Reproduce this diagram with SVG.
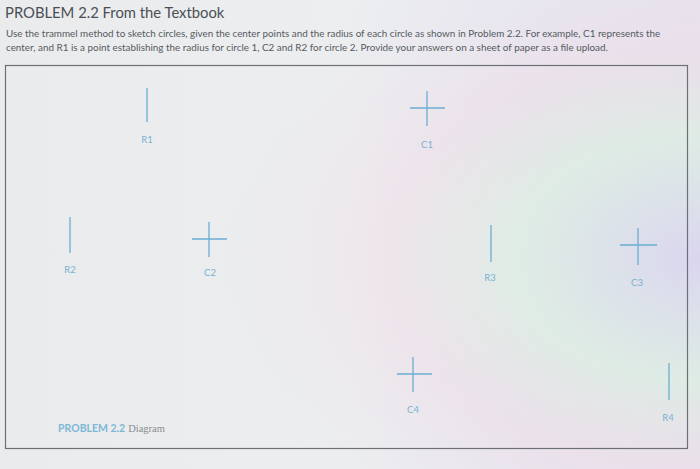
<svg xmlns="http://www.w3.org/2000/svg" width="700" height="469" viewBox="0 0 700 469">
  <defs>
    <linearGradient id="bg" x1="0" y1="0" x2="1" y2="0">
      <stop offset="0" stop-color="#e9ebec"/>
      <stop offset="0.5" stop-color="#eceef0"/>
      <stop offset="0.75" stop-color="#e6e6f0"/>
      <stop offset="1" stop-color="#e4e2ef"/>
    </linearGradient>
    <radialGradient id="moire" cx="1" cy="0.55" r="0.75">
      <stop offset="0" stop-color="#d9d4f0" stop-opacity="0.9"/>
      <stop offset="0.35" stop-color="#dcefe0" stop-opacity="0.7"/>
      <stop offset="0.6" stop-color="#f0dde6" stop-opacity="0.5"/>
      <stop offset="1" stop-color="#eceef0" stop-opacity="0"/>
    </radialGradient>
  </defs>
  <style>
    .title { font-family: Lato, "Liberation Sans", sans-serif; font-size: 14.8px; fill: #4a4f55; }
    .para { font-family: Lato, "Liberation Sans", sans-serif; font-size: 9.9px; fill: #555a61; }
    .mark { stroke: #6aaed3; stroke-width: 1.3; fill: none; }
    .lbl { font-family: Lato, "Liberation Sans", sans-serif; font-size: 9.5px; fill: #7ab2d3; text-anchor: middle; }
    .cap1 { font-family: Lato, "Liberation Sans", sans-serif; font-size: 10.5px; font-weight: bold; fill: #7fb8d6; }
    .cap2 { font-family: "Liberation Serif", serif; font-size: 10.5px; fill: #8a8d90; }
  </style>
  <rect x="0" y="0" width="700" height="469" fill="url(#bg)"/>
  <rect x="0" y="0" width="700" height="469" fill="url(#moire)"/>
  <text class="title" x="5" y="18">PROBLEM 2.2 From the Textbook</text>
  <text class="para" x="6" y="37">Use the trammel method to sketch circles, given the center points and the radius of each circle as shown in Problem 2.2. For example, C1 represents the</text>
  <text class="para" x="6" y="51">center, and R1 is a point establishing the radius for circle 1, C2 and R2 for circle 2. Provide your answers on a sheet of paper as a file upload.</text>
  <rect x="5.5" y="65.5" width="682" height="383" fill="none" stroke="#6d7074" stroke-width="1.2"/>

  <g id="R1">
    <line class="mark" x1="147" y1="88" x2="147" y2="122"/>
    <text class="lbl" x="147" y="143">R1</text>
  </g>
  <g id="C1">
    <line class="mark" x1="410" y1="108" x2="445" y2="108"/>
    <line class="mark" x1="427" y1="91" x2="427" y2="126"/>
    <text class="lbl" x="427" y="148">C1</text>
  </g>
  <g id="R2">
    <line class="mark" x1="70" y1="217" x2="70" y2="253"/>
    <text class="lbl" x="70" y="273">R2</text>
  </g>
  <g id="C2">
    <line class="mark" x1="192" y1="239" x2="227" y2="239"/>
    <line class="mark" x1="209" y1="222" x2="209" y2="257"/>
    <text class="lbl" x="210" y="276">C2</text>
  </g>
  <g id="R3">
    <line class="mark" x1="491" y1="225" x2="491" y2="262"/>
    <text class="lbl" x="490" y="281">R3</text>
  </g>
  <g id="C3">
    <line class="mark" x1="620" y1="245" x2="657" y2="245"/>
    <line class="mark" x1="638" y1="228" x2="638" y2="265"/>
    <text class="lbl" x="637" y="286">C3</text>
  </g>
  <g id="C4">
    <line class="mark" x1="397" y1="374" x2="432" y2="374"/>
    <line class="mark" x1="413" y1="357" x2="413" y2="392"/>
    <text class="lbl" x="413" y="413">C4</text>
  </g>
  <g id="R4">
    <line class="mark" x1="669" y1="363" x2="669" y2="400"/>
    <text class="lbl" x="668" y="421">R4</text>
  </g>
  <g id="caption">
    <text x="58" y="432"><tspan class="cap1">PROBLEM 2.2</tspan><tspan class="cap2" dx="3">Diagram</tspan></text>
  </g>
</svg>
